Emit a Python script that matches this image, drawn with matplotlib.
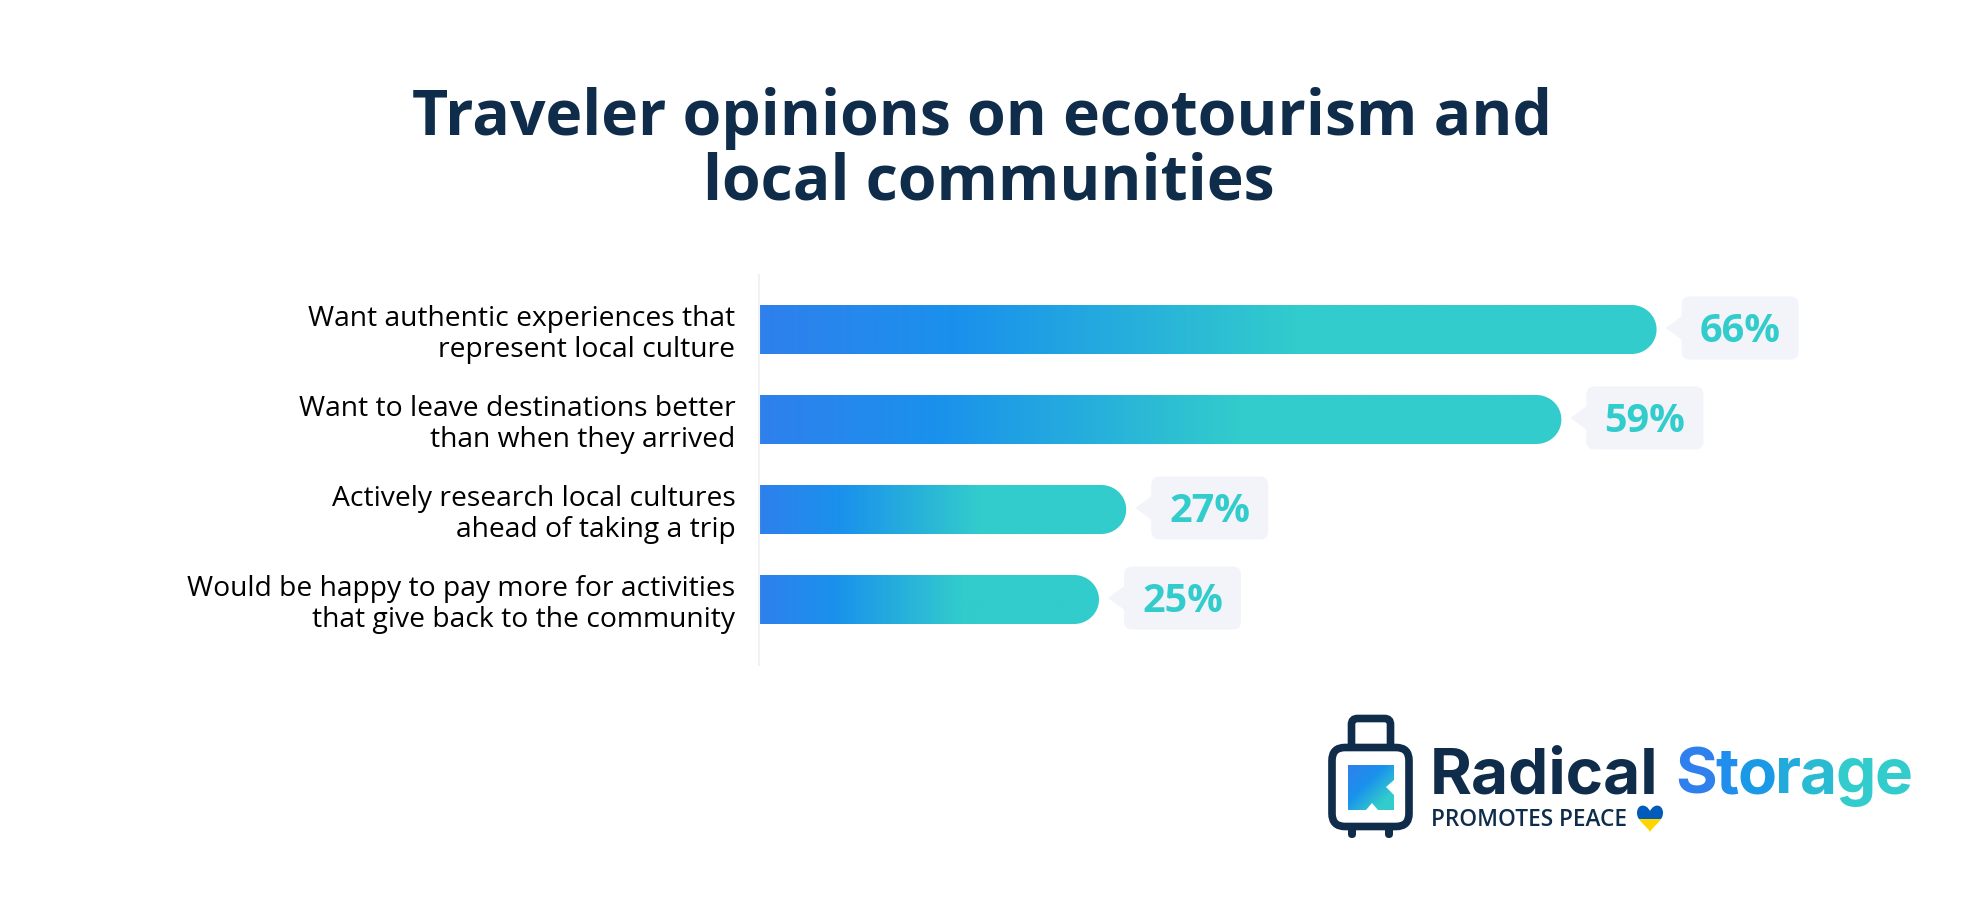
import matplotlib
matplotlib.use('Agg')
import matplotlib.pyplot as plt
import numpy as np
from matplotlib.colors import LinearSegmentedColormap
from matplotlib.patches import FancyBboxPatch, PathPatch, Polygon, Rectangle
from matplotlib.path import Path

# Chart data
labels = [
    'Want authentic experiences that\nrepresent local culture',
    'Want to leave destinations better\nthan when they arrived',
    'Actively research local cultures\nahead of taking a trip',
    'Would be happy to pay more for activities\nthat give back to the community',
]
values = [66, 59, 27, 25]
title_lines = ['Traveler opinions on ecotourism and', 'local communities']

NAVY = '#0F2D4A'
TEAL = '#32CCCC'
BOX = '#F3F4FA'
W, H = 1980, 899
PX_PER_PCT = 13.6
ROW_PX = 90

grad = LinearSegmentedColormap.from_list('bar', [(0, '#2F80ED'), (0.22, '#1A91EC'), (0.6, TEAL), (1, TEAL)])
plt.rcParams['font.family'] = ['Open Sans', 'DejaVu Sans']

fig = plt.figure(figsize=(W / 100, H / 100), dpi=100, facecolor='white')

# Full figure overlay in pixel coordinates, for the title and the logo
bg = fig.add_axes([0, 0, 1, 1])
bg.set_xlim(0, W)
bg.set_ylim(H, 0)
bg.axis('off')

# Chart axes, one x unit is one percent
x0, y_top, y_bot = 759, 275, 665
xmax = 90
ax = fig.add_axes([x0 / W, 1 - y_bot / H, xmax * PX_PER_PCT / W, (y_bot - y_top) / H])
ax.patch.set_alpha(0)

rx = 25 / PX_PER_PCT
ry = 24.5 / ROW_PX
for i, v in enumerate(values):
    # bar with a square left end and a round right end
    t = np.linspace(np.pi / 2, -np.pi / 2, 30)
    xs = np.r_[0, v - rx + rx * np.cos(t), 0]
    ys = np.r_[i - ry, i - ry * np.sin(t), i + ry]
    clip = Polygon(np.c_[xs, ys], closed=True, transform=ax.transData, fc='none', ec='none')
    ax.add_patch(clip)
    im = ax.imshow(np.linspace(0, 1, 512)[None, :], cmap=grad, aspect='auto',
                   extent=(0, v, i + ry, i - ry), vmin=0, vmax=1, zorder=2)
    im.set_clip_path(clip)

    # callout next to the bar
    bx = v + 25 / PX_PER_PCT
    bw = 117 / PX_PER_PCT
    bh = 63 / ROW_PX
    by = i - 1.5 / ROW_PX
    box = FancyBboxPatch((bx, by - bh / 2), bw, bh, boxstyle='round,pad=0,rounding_size=0.6',
                         mutation_aspect=(1 / ROW_PX) / (1 / PX_PER_PCT), fc=BOX, ec='none', zorder=2)
    ax.add_patch(box)
    ax.add_patch(Polygon([(v + 9 / PX_PER_PCT, by), (bx + 0.05, by - 12 / ROW_PX), (bx + 0.05, by + 12 / ROW_PX)],
                         closed=True, fc=BOX, ec='none', zorder=2))
    ax.text(bx + bw / 2, i - 2 / ROW_PX, f'{v}%', color=TEAL, fontsize=28.5, fontweight='bold',
            ha='center', va='center_baseline', zorder=3)

ax.set_xlim(0, xmax)
ax.set_ylim((y_bot - 329.5) / ROW_PX, (y_top - 329.5) / ROW_PX)
ax.set_xticks([])
ax.set_yticks(range(len(labels)))
ax.set_yticklabels(labels, fontsize=20.35, color='#000000', linespacing=1.16, ha='right', multialignment='right')
ax.tick_params(axis='y', length=0, pad=17)
for s in ['top', 'right', 'bottom']:
    ax.spines[s].set_visible(False)
ax.spines['left'].set_color('#F0F1F5')
ax.spines['left'].set_linewidth(1.5)

# Title, the two lines are not centred on the same x in the reference
bg.text(982, 135, title_lines[0], fontsize=45, fontweight='bold', color=NAVY, ha='center', va='baseline')
bg.text(989, 199, title_lines[1], fontsize=45, fontweight='bold', color=NAVY, ha='center', va='baseline')

# Logo: suitcase
bg.add_patch(FancyBboxPatch((1351.5, 718.5), 39, 36, boxstyle='round,pad=0,rounding_size=6',
                            fc='none', ec=NAVY, lw=5.5))
bg.add_patch(FancyBboxPatch((1332, 747.5), 77, 79, boxstyle='round,pad=0,rounding_size=13',
                            fc='white', ec=NAVY, lw=5.5, zorder=3))
for wx in (1352, 1389):
    bg.add_patch(FancyBboxPatch((wx - 4, 826), 8, 12, boxstyle='round,pad=0,rounding_size=4',
                                fc=NAVY, ec='none', zorder=2))

# Logo: R mark with diagonal gradient
mark = Polygon([(1348, 765), (1394, 765), (1394, 780), (1386, 787), (1394, 795), (1394, 810),
                (1378, 810), (1372, 803), (1366, 810), (1348, 810)], closed=True, fc='none', ec='none',
               transform=bg.transData)
bg.add_patch(mark)
gx, gy = np.meshgrid(np.linspace(0, 1, 100), np.linspace(0, 1, 100))
im = bg.imshow((gx + gy) / 2, cmap=LinearSegmentedColormap.from_list('m', ['#2F80ED', '#1A91EC', TEAL]),
               extent=(1348, 1394, 810, 765), aspect='auto', vmin=0, vmax=0.8, zorder=4)
im.set_clip_path(mark)
bg.set_xlim(0, W)
bg.set_ylim(H, 0)

# Logo: wordmark
logo_font = 'Inter'
logo_size = 46
bg.text(1430, 793, 'Radical', fontsize=logo_size, fontweight='bold', color=NAVY, family=logo_font, va='baseline')
bg.text(1431, 826, 'PROMOTES PEACE', fontsize=16.3, fontweight='semibold', color=NAVY, va='baseline')

word = 'Storage'
word_colors = ['#2F80ED', '#1F8EEC', '#1A9AE6', '#22AADC', '#2ABBD3', '#32CCCC', '#32CCCC']
r = fig.canvas.get_renderer()


def prefix_width(s):
    if not s:
        return 0
    tmp = bg.text(0, 0, s, fontsize=logo_size, fontweight='bold', family=logo_font)
    w = tmp.get_window_extent(r).width
    tmp.remove()
    return w


for k, (ch, c) in enumerate(zip(word, word_colors)):
    bg.text(1675 + 0.96 * prefix_width(word[:k]), 793, ch, fontsize=logo_size, fontweight='bold', color=c,
            family=logo_font, va='baseline')

# Logo: heart, blue on top and yellow below
heart_verts = [(1650, 811), (1646, 803), (1637, 804), (1637, 813), (1637, 821), (1646, 825), (1650, 832),
               (1654, 825), (1663, 821), (1663, 813), (1663, 804), (1654, 803), (1650, 811)]
heart_codes = [Path.MOVETO] + [Path.CURVE4] * 12
heart = Path(heart_verts, heart_codes)
for color, top, hgt in (('#FFD500', 819, 20), ('#005BBB', 800, 19)):
    hp = PathPatch(heart, fc=color, ec='none', zorder=5)
    bg.add_patch(hp)
    hp.set_clip_path(Rectangle((1630, top), 40, hgt, transform=bg.transData))

fig.savefig('out.png', dpi=100)
